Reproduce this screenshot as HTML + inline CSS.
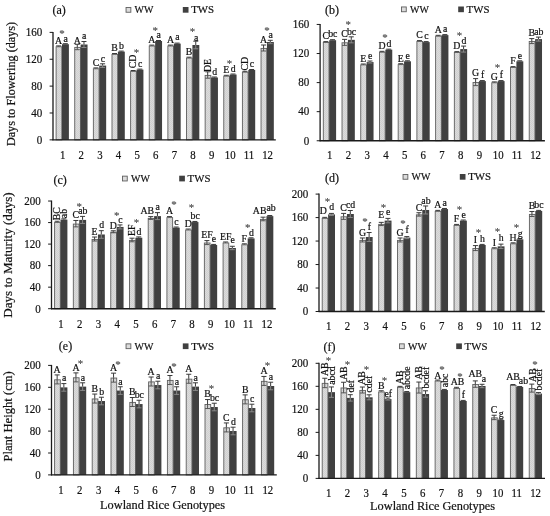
<!DOCTYPE html>
<html lang="en">
<head>
<meta charset="utf-8">
<title>Figure</title>
<style>
html,body{margin:0;padding:0;background:#fff;}
body{width:550px;height:516px;overflow:hidden;}
svg{display:block;font-family:"Liberation Serif", "DejaVu Serif", serif;fill:#111;}
text{stroke:#111;stroke-width:0.2px;}
.st{stroke:#444;stroke-width:0.1px;fill:#3c3c3c;}
</style>
</head>
<body>
<svg width="550" height="516" viewBox="0 0 550 516">
<defs>
<pattern id="dots" width="2" height="2" patternUnits="userSpaceOnUse">
<rect width="2" height="2" fill="#dbdbdb"/>
<rect width="1" height="1" fill="#d0d0d0"/>
<rect x="1" y="1" width="1" height="1" fill="#d0d0d0"/>
</pattern>
</defs>
<rect width="550" height="516" fill="#fff"/>
<g id="panel-a">
<rect x="56.1" y="46.8" width="5.7" height="93.05" fill="url(#dots)" stroke="#5f5f5f" stroke-width="0.9"/>
<rect x="62" y="44.2" width="6.9" height="95.65" fill="#404040"/>
<path d="M58.65 45.9V46.4M56.15 45.9H61.15" stroke="#3a3a3a" stroke-width="1" fill="none"/>
<path d="M65.35 43.7V44.2M62.85 43.7H67.85" stroke="#3a3a3a" stroke-width="1" fill="none"/>
<text x="58.65" y="43.7" font-size="9.8" text-anchor="middle">A</text>
<text x="65.65" y="41.5" font-size="9.8" text-anchor="middle">a</text>
<text x="62" y="37.3" class="st" font-size="11" text-anchor="middle">*</text>
<rect x="74.73" y="47.4" width="5.7" height="92.45" fill="url(#dots)" stroke="#5f5f5f" stroke-width="0.9"/>
<rect x="80.63" y="44.5" width="6.9" height="95.35" fill="#404040"/>
<path d="M77.28 44.3V47M74.78 44.3H79.78" stroke="#3a3a3a" stroke-width="1" fill="none"/>
<path d="M77.28 47V49.7M74.78 49.7H79.78" stroke="#4a4a4a" stroke-width="0.9" fill="none"/>
<path d="M83.98 41.5V44.5M81.48 41.5H86.48" stroke="#3a3a3a" stroke-width="1" fill="none"/>
<path d="M83.98 44.5V47.5M81.48 47.5H86.48" stroke="#8f8f8f" stroke-width="0.9" fill="none"/>
<text x="77.28" y="43.6" font-size="9.8" text-anchor="middle">A</text>
<text x="84.28" y="39.3" font-size="9.8" text-anchor="middle">a</text>
<rect x="93.36" y="68.8" width="5.7" height="71.05" fill="url(#dots)" stroke="#5f5f5f" stroke-width="0.9"/>
<rect x="99.26" y="65.6" width="6.9" height="74.25" fill="#404040"/>
<path d="M95.91 67.9V68.4M93.41 67.9H98.41" stroke="#3a3a3a" stroke-width="1" fill="none"/>
<path d="M102.61 63.8V65.6M100.11 63.8H105.11" stroke="#3a3a3a" stroke-width="1" fill="none"/>
<path d="M102.61 65.6V67.4M100.11 67.4H105.11" stroke="#8f8f8f" stroke-width="0.9" fill="none"/>
<text x="95.91" y="65.7" font-size="9.8" text-anchor="middle">C</text>
<text x="102.91" y="61.6" font-size="9.8" text-anchor="middle">c</text>
<rect x="111.99" y="54.4" width="5.7" height="85.45" fill="url(#dots)" stroke="#5f5f5f" stroke-width="0.9"/>
<rect x="117.89" y="51.6" width="6.9" height="88.25" fill="#404040"/>
<path d="M114.54 53.5V54M112.04 53.5H117.04" stroke="#3a3a3a" stroke-width="1" fill="none"/>
<path d="M121.24 51.1V51.6M118.74 51.1H123.74" stroke="#3a3a3a" stroke-width="1" fill="none"/>
<text x="114.54" y="51.3" font-size="9.8" text-anchor="middle">B</text>
<text x="121.54" y="48.9" font-size="9.8" text-anchor="middle">b</text>
<rect x="130.62" y="71.4" width="5.7" height="68.45" fill="url(#dots)" stroke="#5f5f5f" stroke-width="0.9"/>
<rect x="136.52" y="69.6" width="6.9" height="70.25" fill="#404040"/>
<path d="M133.17 70.5V71M130.67 70.5H135.67" stroke="#3a3a3a" stroke-width="1" fill="none"/>
<path d="M139.87 69.1V69.6M137.37 69.1H142.37" stroke="#3a3a3a" stroke-width="1" fill="none"/>
<text transform="translate(136.27 68.3) rotate(-90)" font-size="9.8" text-anchor="start">CD</text>
<text x="140.17" y="66.9" font-size="9.8" text-anchor="middle">c</text>
<text x="136.4" y="56" class="st" font-size="11" text-anchor="middle">*</text>
<rect x="149.25" y="46" width="5.7" height="93.85" fill="url(#dots)" stroke="#5f5f5f" stroke-width="0.9"/>
<rect x="155.15" y="41" width="6.9" height="98.85" fill="#404040"/>
<path d="M151.8 45.1V45.6M149.3 45.1H154.3" stroke="#3a3a3a" stroke-width="1" fill="none"/>
<path d="M158.5 40.5V41M156 40.5H161" stroke="#3a3a3a" stroke-width="1" fill="none"/>
<text x="151.8" y="42.9" font-size="9.8" text-anchor="middle">A</text>
<text x="158.8" y="38.3" font-size="9.8" text-anchor="middle">a</text>
<text x="155.15" y="34.1" class="st" font-size="11" text-anchor="middle">*</text>
<rect x="167.88" y="46" width="5.7" height="93.85" fill="url(#dots)" stroke="#5f5f5f" stroke-width="0.9"/>
<rect x="173.78" y="43.6" width="6.9" height="96.25" fill="#404040"/>
<path d="M170.43 45.1V45.6M167.93 45.1H172.93" stroke="#3a3a3a" stroke-width="1" fill="none"/>
<path d="M177.13 43.1V43.6M174.63 43.1H179.63" stroke="#3a3a3a" stroke-width="1" fill="none"/>
<text x="170.43" y="42.9" font-size="9.8" text-anchor="middle">A</text>
<text x="177.43" y="40.4" font-size="9.8" text-anchor="middle">a</text>
<rect x="186.51" y="58.1" width="5.7" height="81.75" fill="url(#dots)" stroke="#5f5f5f" stroke-width="0.9"/>
<rect x="192.41" y="45" width="6.9" height="94.85" fill="#404040"/>
<path d="M189.06 57.2V57.7M186.56 57.2H191.56" stroke="#3a3a3a" stroke-width="1" fill="none"/>
<path d="M195.76 41.2V45M193.26 41.2H198.26" stroke="#3a3a3a" stroke-width="1" fill="none"/>
<path d="M195.76 45V48.8M193.26 48.8H198.26" stroke="#8f8f8f" stroke-width="0.9" fill="none"/>
<text x="189.06" y="55" font-size="9.8" text-anchor="middle">B</text>
<text x="196.06" y="40.5" font-size="9.8" text-anchor="middle">a</text>
<text x="192.41" y="34.8" class="st" font-size="11" text-anchor="middle">*</text>
<rect x="205.14" y="75.4" width="5.7" height="64.45" fill="url(#dots)" stroke="#5f5f5f" stroke-width="0.9"/>
<rect x="211.04" y="77.5" width="6.9" height="62.35" fill="#404040"/>
<path d="M207.69 71.8V75M205.19 71.8H210.19" stroke="#3a3a3a" stroke-width="1" fill="none"/>
<path d="M207.69 75V78.2M205.19 78.2H210.19" stroke="#4a4a4a" stroke-width="0.9" fill="none"/>
<path d="M214.39 77V77.5M211.89 77H216.89" stroke="#3a3a3a" stroke-width="1" fill="none"/>
<text transform="translate(211.29 72.1) rotate(-90)" font-size="9.8" text-anchor="start">DE</text>
<text x="214.69" y="74.8" font-size="9.8" text-anchor="middle">d</text>
<rect x="223.77" y="76.2" width="5.7" height="63.65" fill="url(#dots)" stroke="#5f5f5f" stroke-width="0.9"/>
<rect x="229.67" y="74.5" width="6.9" height="65.35" fill="#404040"/>
<path d="M226.32 75.3V75.8M223.82 75.3H228.82" stroke="#3a3a3a" stroke-width="1" fill="none"/>
<path d="M233.02 74V74.5M230.52 74H235.52" stroke="#3a3a3a" stroke-width="1" fill="none"/>
<text x="226.32" y="73.1" font-size="9.8" text-anchor="middle">E</text>
<text x="233.32" y="71.8" font-size="9.8" text-anchor="middle">d</text>
<text x="229.4" y="66.6" class="st" font-size="11" text-anchor="middle">*</text>
<rect x="242.4" y="72.2" width="5.7" height="67.65" fill="url(#dots)" stroke="#5f5f5f" stroke-width="0.9"/>
<rect x="248.3" y="70" width="6.9" height="69.85" fill="#404040"/>
<path d="M244.95 71.3V71.8M242.45 71.3H247.45" stroke="#3a3a3a" stroke-width="1" fill="none"/>
<path d="M251.65 69.5V70M249.15 69.5H254.15" stroke="#3a3a3a" stroke-width="1" fill="none"/>
<text transform="translate(248.35 70.6) rotate(-90)" font-size="9.8" text-anchor="start">CD</text>
<text x="251.95" y="67.3" font-size="9.8" text-anchor="middle">c</text>
<rect x="261.03" y="48.4" width="5.7" height="91.45" fill="url(#dots)" stroke="#5f5f5f" stroke-width="0.9"/>
<rect x="266.93" y="42" width="6.9" height="97.85" fill="#404040"/>
<path d="M263.58 45V48M261.08 45H266.08" stroke="#3a3a3a" stroke-width="1" fill="none"/>
<path d="M263.58 48V51M261.08 51H266.08" stroke="#4a4a4a" stroke-width="0.9" fill="none"/>
<path d="M270.28 40.3V42M267.78 40.3H272.78" stroke="#3a3a3a" stroke-width="1" fill="none"/>
<path d="M270.28 42V43.7M267.78 43.7H272.78" stroke="#8f8f8f" stroke-width="0.9" fill="none"/>
<text x="263.58" y="42.8" font-size="9.8" text-anchor="middle">A</text>
<text x="270.58" y="38.1" font-size="9.8" text-anchor="middle">a</text>
<text x="266.93" y="33.9" class="st" font-size="11" text-anchor="middle">*</text>
<path d="M53 31.89V140.35" stroke="#1a1a1a" stroke-width="1.3" fill="none"/>
<path d="M52.5 139.85H275.8" stroke="#1a1a1a" stroke-width="1.4" fill="none"/>
<path d="M49.6 139.85H53" stroke="#1a1a1a" stroke-width="1" fill="none"/>
<text transform="translate(42.2 143.65) scale(0.92 1)" font-size="12" text-anchor="end">0</text>
<path d="M49.6 112.99H53" stroke="#1a1a1a" stroke-width="1" fill="none"/>
<text transform="translate(42.2 116.79) scale(0.92 1)" font-size="12" text-anchor="end">40</text>
<path d="M49.6 86.12H53" stroke="#1a1a1a" stroke-width="1" fill="none"/>
<text transform="translate(42.2 89.92) scale(0.92 1)" font-size="12" text-anchor="end">80</text>
<path d="M49.6 59.26H53" stroke="#1a1a1a" stroke-width="1" fill="none"/>
<text transform="translate(42.2 63.06) scale(0.92 1)" font-size="12" text-anchor="end">120</text>
<path d="M49.6 32.39H53" stroke="#1a1a1a" stroke-width="1" fill="none"/>
<text transform="translate(42.2 36.19) scale(0.92 1)" font-size="12" text-anchor="end">160</text>
<text transform="translate(62.6 158.6) scale(0.9 1)" font-size="12" text-anchor="middle">1</text>
<text transform="translate(81.23 158.6) scale(0.9 1)" font-size="12" text-anchor="middle">2</text>
<text transform="translate(99.86 158.6) scale(0.9 1)" font-size="12" text-anchor="middle">3</text>
<text transform="translate(118.49 158.6) scale(0.9 1)" font-size="12" text-anchor="middle">4</text>
<text transform="translate(137.12 158.6) scale(0.9 1)" font-size="12" text-anchor="middle">5</text>
<text transform="translate(155.75 158.6) scale(0.9 1)" font-size="12" text-anchor="middle">6</text>
<text transform="translate(174.38 158.6) scale(0.9 1)" font-size="12" text-anchor="middle">7</text>
<text transform="translate(193.01 158.6) scale(0.9 1)" font-size="12" text-anchor="middle">8</text>
<text transform="translate(211.64 158.6) scale(0.9 1)" font-size="12" text-anchor="middle">9</text>
<text transform="translate(230.27 158.6) scale(0.9 1)" font-size="12" text-anchor="middle">10</text>
<text transform="translate(248.9 158.6) scale(0.9 1)" font-size="12" text-anchor="middle">11</text>
<text transform="translate(267.53 158.6) scale(0.9 1)" font-size="12" text-anchor="middle">12</text>
<text x="59.2" y="14.2" font-size="12" text-anchor="middle">(a)</text>
<rect x="126.05" y="7.45" width="4.8" height="4.8" fill="#dcdcdc" stroke="#5e5e5e" stroke-width="0.9"/>
<text x="134.6" y="13.3" font-size="10.6" textLength="18.8" lengthAdjust="spacingAndGlyphs">WW</text>
<rect x="182.8" y="7" width="5.7" height="5.7" fill="#404040"/>
<text x="191.2" y="13.3" font-size="10.8">TWS</text>
<text transform="translate(14.5 84) rotate(-90)" font-size="12.2" text-anchor="middle">Days to Flowering (days)</text>
</g>
<g id="panel-b">
<rect x="323.3" y="42.5" width="5.7" height="98.25" fill="url(#dots)" stroke="#5f5f5f" stroke-width="0.9"/>
<rect x="329.2" y="40.2" width="6.9" height="100.55" fill="#404040"/>
<path d="M325.85 41.6V42.1M323.35 41.6H328.35" stroke="#3a3a3a" stroke-width="1" fill="none"/>
<path d="M332.55 39.7V40.2M330.05 39.7H335.05" stroke="#3a3a3a" stroke-width="1" fill="none"/>
<text x="325.85" y="39.4" font-size="9.8" text-anchor="middle">C</text>
<text x="332.85" y="36.5" font-size="9.8" text-anchor="middle">bc</text>
<rect x="342.02" y="42.79" width="5.7" height="97.96" fill="url(#dots)" stroke="#5f5f5f" stroke-width="0.9"/>
<rect x="347.92" y="39.84" width="6.9" height="100.91" fill="#404040"/>
<path d="M344.57 39.39V42.39M342.07 39.39H347.07" stroke="#3a3a3a" stroke-width="1" fill="none"/>
<path d="M344.57 42.39V45.39M342.07 45.39H347.07" stroke="#4a4a4a" stroke-width="0.9" fill="none"/>
<path d="M351.27 36.84V39.84M348.77 36.84H353.77" stroke="#3a3a3a" stroke-width="1" fill="none"/>
<path d="M351.27 39.84V42.84M348.77 42.84H353.77" stroke="#8f8f8f" stroke-width="0.9" fill="none"/>
<text x="344.57" y="37.19" font-size="9.8" text-anchor="middle">C</text>
<text x="351.57" y="34.64" font-size="9.8" text-anchor="middle">bc</text>
<text x="348.2" y="28" class="st" font-size="11" text-anchor="middle">*</text>
<rect x="360.74" y="64.9" width="5.7" height="75.85" fill="url(#dots)" stroke="#5f5f5f" stroke-width="0.9"/>
<rect x="366.64" y="62.03" width="6.9" height="78.72" fill="#404040"/>
<path d="M363.29 64V64.5M360.79 64H365.79" stroke="#3a3a3a" stroke-width="1" fill="none"/>
<path d="M369.99 61.03V62.03M367.49 61.03H372.49" stroke="#3a3a3a" stroke-width="1" fill="none"/>
<path d="M369.99 62.03V63.03M367.49 63.03H372.49" stroke="#8f8f8f" stroke-width="0.9" fill="none"/>
<text x="363.29" y="61.8" font-size="9.8" text-anchor="middle">E</text>
<text x="370.29" y="58.83" font-size="9.8" text-anchor="middle">e</text>
<rect x="379.46" y="52.24" width="5.7" height="88.51" fill="url(#dots)" stroke="#5f5f5f" stroke-width="0.9"/>
<rect x="385.36" y="49.66" width="6.9" height="91.09" fill="#404040"/>
<path d="M382.01 51.34V51.84M379.51 51.34H384.51" stroke="#3a3a3a" stroke-width="1" fill="none"/>
<path d="M388.71 49.16V49.66M386.21 49.16H391.21" stroke="#3a3a3a" stroke-width="1" fill="none"/>
<text x="382.01" y="49.14" font-size="9.8" text-anchor="middle">D</text>
<text x="389.01" y="46.96" font-size="9.8" text-anchor="middle">d</text>
<text x="385" y="41.2" class="st" font-size="11" text-anchor="middle">*</text>
<rect x="398.18" y="64.61" width="5.7" height="76.14" fill="url(#dots)" stroke="#5f5f5f" stroke-width="0.9"/>
<rect x="404.08" y="61.3" width="6.9" height="79.45" fill="#404040"/>
<path d="M400.73 63.71V64.21M398.23 63.71H403.23" stroke="#3a3a3a" stroke-width="1" fill="none"/>
<path d="M407.43 60.8V61.3M404.93 60.8H409.93" stroke="#3a3a3a" stroke-width="1" fill="none"/>
<text x="400.73" y="61.51" font-size="9.8" text-anchor="middle">E</text>
<text x="407.73" y="58.6" font-size="9.8" text-anchor="middle">e</text>
<rect x="416.9" y="41.48" width="5.7" height="99.27" fill="url(#dots)" stroke="#5f5f5f" stroke-width="0.9"/>
<rect x="422.8" y="42.1" width="6.9" height="98.65" fill="#404040"/>
<path d="M419.45 40.58V41.08M416.95 40.58H421.95" stroke="#3a3a3a" stroke-width="1" fill="none"/>
<path d="M426.15 41.6V42.1M423.65 41.6H428.65" stroke="#3a3a3a" stroke-width="1" fill="none"/>
<text x="419.45" y="38.38" font-size="9.8" text-anchor="middle">C</text>
<text x="426.45" y="39.4" font-size="9.8" text-anchor="middle">c</text>
<rect x="435.62" y="36.24" width="5.7" height="104.51" fill="url(#dots)" stroke="#5f5f5f" stroke-width="0.9"/>
<rect x="441.52" y="35.11" width="6.9" height="105.64" fill="#404040"/>
<path d="M438.17 35.34V35.84M435.67 35.34H440.67" stroke="#3a3a3a" stroke-width="1" fill="none"/>
<path d="M444.87 34.61V35.11M442.37 34.61H447.37" stroke="#3a3a3a" stroke-width="1" fill="none"/>
<text x="438.17" y="33.14" font-size="9.8" text-anchor="middle">A</text>
<text x="445.17" y="32.41" font-size="9.8" text-anchor="middle">a</text>
<rect x="454.34" y="52.54" width="5.7" height="88.21" fill="url(#dots)" stroke="#5f5f5f" stroke-width="0.9"/>
<rect x="460.24" y="49.08" width="6.9" height="91.67" fill="#404040"/>
<path d="M456.89 51.64V52.14M454.39 51.64H459.39" stroke="#3a3a3a" stroke-width="1" fill="none"/>
<path d="M463.59 46.08V49.08M461.09 46.08H466.09" stroke="#3a3a3a" stroke-width="1" fill="none"/>
<path d="M463.59 49.08V52.08M461.09 52.08H466.09" stroke="#8f8f8f" stroke-width="0.9" fill="none"/>
<text x="456.89" y="49.44" font-size="9.8" text-anchor="middle">D</text>
<text x="463.89" y="43.88" font-size="9.8" text-anchor="middle">d</text>
<text x="459.6" y="38.6" class="st" font-size="11" text-anchor="middle">*</text>
<rect x="473.06" y="82.51" width="5.7" height="58.24" fill="url(#dots)" stroke="#5f5f5f" stroke-width="0.9"/>
<rect x="478.96" y="81.09" width="6.9" height="59.66" fill="#404040"/>
<path d="M475.61 78.61V82.11M473.11 78.61H478.11" stroke="#3a3a3a" stroke-width="1" fill="none"/>
<path d="M475.61 82.11V85.61M473.11 85.61H478.11" stroke="#4a4a4a" stroke-width="0.9" fill="none"/>
<path d="M482.31 80.59V81.09M479.81 80.59H484.81" stroke="#3a3a3a" stroke-width="1" fill="none"/>
<text x="475.61" y="76.41" font-size="9.8" text-anchor="middle">G</text>
<text x="482.61" y="78.39" font-size="9.8" text-anchor="middle">f</text>
<rect x="491.78" y="82.8" width="5.7" height="57.95" fill="url(#dots)" stroke="#5f5f5f" stroke-width="0.9"/>
<rect x="497.68" y="81.09" width="6.9" height="59.66" fill="#404040"/>
<path d="M494.33 81.9V82.4M491.83 81.9H496.83" stroke="#3a3a3a" stroke-width="1" fill="none"/>
<path d="M501.03 80.59V81.09M498.53 80.59H503.53" stroke="#3a3a3a" stroke-width="1" fill="none"/>
<text x="494.33" y="79.7" font-size="9.8" text-anchor="middle">G</text>
<text x="501.33" y="78.39" font-size="9.8" text-anchor="middle">f</text>
<text x="497.6" y="70.6" class="st" font-size="11" text-anchor="middle">*</text>
<rect x="510.5" y="67.52" width="5.7" height="73.23" fill="url(#dots)" stroke="#5f5f5f" stroke-width="0.9"/>
<rect x="516.4" y="61.3" width="6.9" height="79.45" fill="#404040"/>
<path d="M513.05 66.62V67.12M510.55 66.62H515.55" stroke="#3a3a3a" stroke-width="1" fill="none"/>
<path d="M519.75 60.8V61.3M517.25 60.8H522.25" stroke="#3a3a3a" stroke-width="1" fill="none"/>
<text x="513.05" y="64.42" font-size="9.8" text-anchor="middle">F</text>
<text x="520.05" y="58.6" font-size="9.8" text-anchor="middle">e</text>
<rect x="529.22" y="41.48" width="5.7" height="99.27" fill="url(#dots)" stroke="#5f5f5f" stroke-width="0.9"/>
<rect x="535.12" y="39.11" width="6.9" height="101.64" fill="#404040"/>
<path d="M531.77 38.58V41.08M529.27 38.58H534.27" stroke="#3a3a3a" stroke-width="1" fill="none"/>
<path d="M531.77 41.08V43.58M529.27 43.58H534.27" stroke="#4a4a4a" stroke-width="0.9" fill="none"/>
<path d="M538.47 37.11V39.11M535.97 37.11H540.97" stroke="#3a3a3a" stroke-width="1" fill="none"/>
<path d="M538.47 39.11V41.11M535.97 41.11H540.97" stroke="#8f8f8f" stroke-width="0.9" fill="none"/>
<text x="531.77" y="36.38" font-size="9.8" text-anchor="middle">B</text>
<text x="538.77" y="34.91" font-size="9.8" text-anchor="middle">ab</text>
<path d="M320.1 23.95V141.25" stroke="#1a1a1a" stroke-width="1.3" fill="none"/>
<path d="M319.6 140.75H544.9" stroke="#1a1a1a" stroke-width="1.4" fill="none"/>
<path d="M316.7 140.75H320.1" stroke="#1a1a1a" stroke-width="1" fill="none"/>
<text transform="translate(309.3 144.55) scale(0.92 1)" font-size="12" text-anchor="end">0</text>
<path d="M316.7 111.67H320.1" stroke="#1a1a1a" stroke-width="1" fill="none"/>
<text transform="translate(309.3 115.47) scale(0.92 1)" font-size="12" text-anchor="end">40</text>
<path d="M316.7 82.6H320.1" stroke="#1a1a1a" stroke-width="1" fill="none"/>
<text transform="translate(309.3 86.4) scale(0.92 1)" font-size="12" text-anchor="end">80</text>
<path d="M316.7 53.52H320.1" stroke="#1a1a1a" stroke-width="1" fill="none"/>
<text transform="translate(309.3 57.32) scale(0.92 1)" font-size="12" text-anchor="end">120</text>
<path d="M316.7 24.45H320.1" stroke="#1a1a1a" stroke-width="1" fill="none"/>
<text transform="translate(309.3 28.25) scale(0.92 1)" font-size="12" text-anchor="end">160</text>
<text transform="translate(329.7 159.2) scale(0.9 1)" font-size="12" text-anchor="middle">1</text>
<text transform="translate(348.42 159.2) scale(0.9 1)" font-size="12" text-anchor="middle">2</text>
<text transform="translate(367.14 159.2) scale(0.9 1)" font-size="12" text-anchor="middle">3</text>
<text transform="translate(385.86 159.2) scale(0.9 1)" font-size="12" text-anchor="middle">4</text>
<text transform="translate(404.58 159.2) scale(0.9 1)" font-size="12" text-anchor="middle">5</text>
<text transform="translate(423.3 159.2) scale(0.9 1)" font-size="12" text-anchor="middle">6</text>
<text transform="translate(442.02 159.2) scale(0.9 1)" font-size="12" text-anchor="middle">7</text>
<text transform="translate(460.74 159.2) scale(0.9 1)" font-size="12" text-anchor="middle">8</text>
<text transform="translate(479.46 159.2) scale(0.9 1)" font-size="12" text-anchor="middle">9</text>
<text transform="translate(498.18 159.2) scale(0.9 1)" font-size="12" text-anchor="middle">10</text>
<text transform="translate(516.9 159.2) scale(0.9 1)" font-size="12" text-anchor="middle">11</text>
<text transform="translate(535.62 159.2) scale(0.9 1)" font-size="12" text-anchor="middle">12</text>
<text x="332" y="14.4" font-size="12" text-anchor="middle">(b)</text>
<rect x="401.45" y="6.95" width="4.8" height="4.8" fill="#dcdcdc" stroke="#5e5e5e" stroke-width="0.9"/>
<text x="410" y="12.8" font-size="10.6" textLength="18.8" lengthAdjust="spacingAndGlyphs">WW</text>
<rect x="458.2" y="6.5" width="5.7" height="5.7" fill="#404040"/>
<text x="466.6" y="12.8" font-size="10.8">TWS</text>
</g>
<g id="panel-c">
<rect x="54.6" y="222.46" width="5.7" height="86.24" fill="url(#dots)" stroke="#5f5f5f" stroke-width="0.9"/>
<rect x="60.5" y="219.63" width="6.9" height="89.07" fill="#404040"/>
<path d="M57.15 221.26V222.06M54.65 221.26H59.65" stroke="#3a3a3a" stroke-width="1" fill="none"/>
<path d="M63.85 218.83V219.63M61.35 218.83H66.35" stroke="#3a3a3a" stroke-width="1" fill="none"/>
<text transform="translate(60.25 220.26) rotate(-90)" font-size="9.8" text-anchor="start">BC</text>
<text transform="translate(67.25 218.13) rotate(-90)" font-size="9.8" text-anchor="start">ab</text>
<rect x="73.32" y="224.08" width="5.7" height="84.62" fill="url(#dots)" stroke="#5f5f5f" stroke-width="0.9"/>
<rect x="79.22" y="219.9" width="6.9" height="88.8" fill="#404040"/>
<path d="M75.87 220.48V223.68M73.37 220.48H78.37" stroke="#3a3a3a" stroke-width="1" fill="none"/>
<path d="M75.87 223.68V226.88M73.37 226.88H78.37" stroke="#4a4a4a" stroke-width="0.9" fill="none"/>
<path d="M82.57 216.4V219.9M80.07 216.4H85.07" stroke="#3a3a3a" stroke-width="1" fill="none"/>
<path d="M82.57 219.9V223.4M80.07 223.4H85.07" stroke="#8f8f8f" stroke-width="0.9" fill="none"/>
<text x="75.87" y="218.28" font-size="9.8" text-anchor="middle">C</text>
<text x="82.87" y="214.2" font-size="9.8" text-anchor="middle">ab</text>
<text x="79.22" y="210" class="st" font-size="11" text-anchor="middle">*</text>
<rect x="92.04" y="239.42" width="5.7" height="69.28" fill="url(#dots)" stroke="#5f5f5f" stroke-width="0.9"/>
<rect x="97.94" y="234.48" width="6.9" height="74.22" fill="#404040"/>
<path d="M94.59 237.02V239.02M92.09 237.02H97.09" stroke="#3a3a3a" stroke-width="1" fill="none"/>
<path d="M94.59 239.02V241.02M92.09 241.02H97.09" stroke="#4a4a4a" stroke-width="0.9" fill="none"/>
<path d="M101.29 230.68V234.48M98.79 230.68H103.79" stroke="#3a3a3a" stroke-width="1" fill="none"/>
<path d="M101.29 234.48V238.28M98.79 238.28H103.79" stroke="#8f8f8f" stroke-width="0.9" fill="none"/>
<text x="94.59" y="234.82" font-size="9.8" text-anchor="middle">E</text>
<text x="101.59" y="228.48" font-size="9.8" text-anchor="middle">d</text>
<rect x="110.76" y="232.18" width="5.7" height="76.52" fill="url(#dots)" stroke="#5f5f5f" stroke-width="0.9"/>
<rect x="116.66" y="226.92" width="6.9" height="81.78" fill="#404040"/>
<path d="M113.31 230.78V231.78M110.81 230.78H115.81" stroke="#3a3a3a" stroke-width="1" fill="none"/>
<path d="M113.31 231.78V232.78M110.81 232.78H115.81" stroke="#4a4a4a" stroke-width="0.9" fill="none"/>
<path d="M120.01 224.92V226.92M117.51 224.92H122.51" stroke="#3a3a3a" stroke-width="1" fill="none"/>
<path d="M120.01 226.92V228.92M117.51 228.92H122.51" stroke="#8f8f8f" stroke-width="0.9" fill="none"/>
<text x="113.31" y="228.58" font-size="9.8" text-anchor="middle">D</text>
<text x="120.31" y="222.72" font-size="9.8" text-anchor="middle">c</text>
<text x="116.66" y="218.52" class="st" font-size="11" text-anchor="middle">*</text>
<rect x="129.48" y="240.39" width="5.7" height="68.31" fill="url(#dots)" stroke="#5f5f5f" stroke-width="0.9"/>
<rect x="135.38" y="237.72" width="6.9" height="70.98" fill="#404040"/>
<path d="M132.03 238.19V239.99M129.53 238.19H134.53" stroke="#3a3a3a" stroke-width="1" fill="none"/>
<path d="M132.03 239.99V241.79M129.53 241.79H134.53" stroke="#4a4a4a" stroke-width="0.9" fill="none"/>
<path d="M138.73 236.92V237.72M136.23 236.92H141.23" stroke="#3a3a3a" stroke-width="1" fill="none"/>
<text transform="translate(135.13 235.99) rotate(-90)" font-size="9.8" text-anchor="start">EF</text>
<text x="139.03" y="234.72" font-size="9.8" text-anchor="middle">d</text>
<text x="136.4" y="225.6" class="st" font-size="11" text-anchor="middle">*</text>
<rect x="148.2" y="218.41" width="5.7" height="90.29" fill="url(#dots)" stroke="#5f5f5f" stroke-width="0.9"/>
<rect x="154.1" y="216.12" width="6.9" height="92.58" fill="#404040"/>
<path d="M150.75 216.61V218.01M148.25 216.61H153.25" stroke="#3a3a3a" stroke-width="1" fill="none"/>
<path d="M150.75 218.01V219.41M148.25 219.41H153.25" stroke="#4a4a4a" stroke-width="0.9" fill="none"/>
<path d="M157.45 212.62V216.12M154.95 212.62H159.95" stroke="#3a3a3a" stroke-width="1" fill="none"/>
<path d="M157.45 216.12V219.62M154.95 219.62H159.95" stroke="#8f8f8f" stroke-width="0.9" fill="none"/>
<text x="147.35" y="214.41" font-size="9.8" text-anchor="middle">AB</text>
<text x="157.75" y="210.42" font-size="9.8" text-anchor="middle">a</text>
<rect x="166.92" y="217.6" width="5.7" height="91.1" fill="url(#dots)" stroke="#5f5f5f" stroke-width="0.9"/>
<rect x="172.82" y="227.62" width="6.9" height="81.08" fill="#404040"/>
<path d="M169.47 216.6V217.2M166.97 216.6H171.97" stroke="#3a3a3a" stroke-width="1" fill="none"/>
<path d="M176.17 227.02V227.62M173.67 227.02H178.67" stroke="#3a3a3a" stroke-width="1" fill="none"/>
<text x="169.47" y="214.4" font-size="9.8" text-anchor="middle">A</text>
<text x="176.47" y="224.82" font-size="9.8" text-anchor="middle">c</text>
<text x="174" y="207.6" class="st" font-size="11" text-anchor="middle">*</text>
<rect x="185.64" y="230.02" width="5.7" height="78.68" fill="url(#dots)" stroke="#5f5f5f" stroke-width="0.9"/>
<rect x="191.54" y="222.06" width="6.9" height="86.64" fill="#404040"/>
<path d="M188.19 229.02V229.62M185.69 229.02H190.69" stroke="#3a3a3a" stroke-width="1" fill="none"/>
<path d="M194.89 221.46V222.06M192.39 221.46H197.39" stroke="#3a3a3a" stroke-width="1" fill="none"/>
<text x="188.19" y="226.82" font-size="9.8" text-anchor="middle">D</text>
<text x="195.19" y="219.26" font-size="9.8" text-anchor="middle">bc</text>
<text x="191.4" y="210.6" class="st" font-size="11" text-anchor="middle">*</text>
<rect x="204.36" y="242.98" width="5.7" height="65.72" fill="url(#dots)" stroke="#5f5f5f" stroke-width="0.9"/>
<rect x="210.26" y="245.01" width="6.9" height="63.69" fill="#404040"/>
<path d="M206.91 240.58V242.58M204.41 240.58H209.41" stroke="#3a3a3a" stroke-width="1" fill="none"/>
<path d="M206.91 242.58V244.58M204.41 244.58H209.41" stroke="#4a4a4a" stroke-width="0.9" fill="none"/>
<path d="M213.61 244.41V245.01M211.11 244.41H216.11" stroke="#3a3a3a" stroke-width="1" fill="none"/>
<text x="206.91" y="238.38" font-size="9.8" text-anchor="middle">EF</text>
<text x="213.91" y="242.21" font-size="9.8" text-anchor="middle">e</text>
<rect x="223.08" y="242.98" width="5.7" height="65.72" fill="url(#dots)" stroke="#5f5f5f" stroke-width="0.9"/>
<rect x="228.98" y="247.98" width="6.9" height="60.72" fill="#404040"/>
<path d="M225.63 241.98V242.58M223.13 241.98H228.13" stroke="#3a3a3a" stroke-width="1" fill="none"/>
<path d="M232.33 246.28V247.98M229.83 246.28H234.83" stroke="#3a3a3a" stroke-width="1" fill="none"/>
<path d="M232.33 247.98V249.68M229.83 249.68H234.83" stroke="#8f8f8f" stroke-width="0.9" fill="none"/>
<text x="225.63" y="239.78" font-size="9.8" text-anchor="middle">EF</text>
<text x="232.63" y="242.58" font-size="9.8" text-anchor="middle">e</text>
<rect x="241.8" y="244.82" width="5.7" height="63.88" fill="url(#dots)" stroke="#5f5f5f" stroke-width="0.9"/>
<rect x="247.7" y="238.42" width="6.9" height="70.28" fill="#404040"/>
<path d="M244.35 243.82V244.42M241.85 243.82H246.85" stroke="#3a3a3a" stroke-width="1" fill="none"/>
<path d="M251.05 237.82V238.42M248.55 237.82H253.55" stroke="#3a3a3a" stroke-width="1" fill="none"/>
<text x="244.35" y="241.62" font-size="9.8" text-anchor="middle">F</text>
<text x="251.35" y="235.62" font-size="9.8" text-anchor="middle">d</text>
<text x="247.7" y="231.42" class="st" font-size="11" text-anchor="middle">*</text>
<rect x="260.52" y="219.38" width="5.7" height="89.32" fill="url(#dots)" stroke="#5f5f5f" stroke-width="0.9"/>
<rect x="266.42" y="216.12" width="6.9" height="92.58" fill="#404040"/>
<path d="M263.07 217.18V218.98M260.57 217.18H265.57" stroke="#3a3a3a" stroke-width="1" fill="none"/>
<path d="M263.07 218.98V220.78M260.57 220.78H265.57" stroke="#4a4a4a" stroke-width="0.9" fill="none"/>
<path d="M269.77 215.52V216.12M267.27 215.52H272.27" stroke="#3a3a3a" stroke-width="1" fill="none"/>
<text x="259.67" y="213.98" font-size="9.8" text-anchor="middle">AB</text>
<text x="271.07" y="211.32" font-size="9.8" text-anchor="middle">ab</text>
<path d="M51.5 200.54V309.2" stroke="#1a1a1a" stroke-width="1.3" fill="none"/>
<path d="M51 308.7H275.8" stroke="#1a1a1a" stroke-width="1.4" fill="none"/>
<path d="M48.1 308.7H51.5" stroke="#1a1a1a" stroke-width="1" fill="none"/>
<text transform="translate(40.7 312.5) scale(0.92 1)" font-size="12" text-anchor="end">0</text>
<path d="M48.1 287.17H51.5" stroke="#1a1a1a" stroke-width="1" fill="none"/>
<text transform="translate(40.7 290.97) scale(0.92 1)" font-size="12" text-anchor="end">40</text>
<path d="M48.1 265.64H51.5" stroke="#1a1a1a" stroke-width="1" fill="none"/>
<text transform="translate(40.7 269.44) scale(0.92 1)" font-size="12" text-anchor="end">80</text>
<path d="M48.1 244.1H51.5" stroke="#1a1a1a" stroke-width="1" fill="none"/>
<text transform="translate(40.7 247.9) scale(0.92 1)" font-size="12" text-anchor="end">120</text>
<path d="M48.1 222.57H51.5" stroke="#1a1a1a" stroke-width="1" fill="none"/>
<text transform="translate(40.7 226.37) scale(0.92 1)" font-size="12" text-anchor="end">160</text>
<path d="M48.1 201.04H51.5" stroke="#1a1a1a" stroke-width="1" fill="none"/>
<text transform="translate(40.7 204.84) scale(0.92 1)" font-size="12" text-anchor="end">200</text>
<text transform="translate(61 327.8) scale(0.9 1)" font-size="12" text-anchor="middle">1</text>
<text transform="translate(79.72 327.8) scale(0.9 1)" font-size="12" text-anchor="middle">2</text>
<text transform="translate(98.44 327.8) scale(0.9 1)" font-size="12" text-anchor="middle">3</text>
<text transform="translate(117.16 327.8) scale(0.9 1)" font-size="12" text-anchor="middle">4</text>
<text transform="translate(135.88 327.8) scale(0.9 1)" font-size="12" text-anchor="middle">5</text>
<text transform="translate(154.6 327.8) scale(0.9 1)" font-size="12" text-anchor="middle">6</text>
<text transform="translate(173.32 327.8) scale(0.9 1)" font-size="12" text-anchor="middle">7</text>
<text transform="translate(192.04 327.8) scale(0.9 1)" font-size="12" text-anchor="middle">8</text>
<text transform="translate(210.76 327.8) scale(0.9 1)" font-size="12" text-anchor="middle">9</text>
<text transform="translate(229.48 327.8) scale(0.9 1)" font-size="12" text-anchor="middle">10</text>
<text transform="translate(248.2 327.8) scale(0.9 1)" font-size="12" text-anchor="middle">11</text>
<text transform="translate(266.92 327.8) scale(0.9 1)" font-size="12" text-anchor="middle">12</text>
<text x="60.2" y="183.6" font-size="12" text-anchor="middle">(c)</text>
<rect x="122.45" y="176.15" width="4.8" height="4.8" fill="#dcdcdc" stroke="#5e5e5e" stroke-width="0.9"/>
<text x="131" y="182" font-size="10.6" textLength="18.8" lengthAdjust="spacingAndGlyphs">WW</text>
<rect x="179.2" y="175.7" width="5.7" height="5.7" fill="#404040"/>
<text x="187.6" y="182" font-size="10.8">TWS</text>
<text transform="translate(11.8 255) rotate(-90)" font-size="13.1" text-anchor="middle">Days to Maturity (days)</text>
</g>
<g id="panel-d">
<rect x="322.2" y="218.37" width="5.7" height="93.13" fill="url(#dots)" stroke="#5f5f5f" stroke-width="0.9"/>
<rect x="328.1" y="214.42" width="6.9" height="97.08" fill="#404040"/>
<path d="M324.75 217.37V217.97M322.25 217.37H327.25" stroke="#3a3a3a" stroke-width="1" fill="none"/>
<path d="M331.45 213.42V214.42M328.95 213.42H333.95" stroke="#3a3a3a" stroke-width="1" fill="none"/>
<path d="M331.45 214.42V215.42M328.95 215.42H333.95" stroke="#8f8f8f" stroke-width="0.9" fill="none"/>
<text x="323.25" y="213.67" font-size="9.8" text-anchor="middle">D</text>
<text x="331.75" y="209.72" font-size="9.8" text-anchor="middle">d</text>
<text x="327.4" y="204.6" class="st" font-size="11" text-anchor="middle">*</text>
<rect x="341.04" y="216.8" width="5.7" height="94.7" fill="url(#dots)" stroke="#5f5f5f" stroke-width="0.9"/>
<rect x="346.94" y="214.01" width="6.9" height="97.49" fill="#404040"/>
<path d="M343.59 213.4V216.4M341.09 213.4H346.09" stroke="#3a3a3a" stroke-width="1" fill="none"/>
<path d="M343.59 216.4V219.4M341.09 219.4H346.09" stroke="#4a4a4a" stroke-width="0.9" fill="none"/>
<path d="M350.29 210.51V214.01M347.79 210.51H352.79" stroke="#3a3a3a" stroke-width="1" fill="none"/>
<path d="M350.29 214.01V217.51M347.79 217.51H352.79" stroke="#8f8f8f" stroke-width="0.9" fill="none"/>
<text x="343.59" y="211.2" font-size="9.8" text-anchor="middle">C</text>
<text x="350.59" y="208.31" font-size="9.8" text-anchor="middle">cd</text>
<rect x="359.87" y="240.39" width="5.7" height="71.11" fill="url(#dots)" stroke="#5f5f5f" stroke-width="0.9"/>
<rect x="365.77" y="237.01" width="6.9" height="74.49" fill="#404040"/>
<path d="M362.42 237.99V239.99M359.92 237.99H364.92" stroke="#3a3a3a" stroke-width="1" fill="none"/>
<path d="M362.42 239.99V241.99M359.92 241.99H364.92" stroke="#4a4a4a" stroke-width="0.9" fill="none"/>
<path d="M369.12 232.51V237.01M366.62 232.51H371.62" stroke="#3a3a3a" stroke-width="1" fill="none"/>
<path d="M369.12 237.01V241.51M366.62 241.51H371.62" stroke="#8f8f8f" stroke-width="0.9" fill="none"/>
<text x="362.42" y="235.79" font-size="9.8" text-anchor="middle">G</text>
<text x="369.42" y="230.31" font-size="9.8" text-anchor="middle">f</text>
<text x="365" y="224.6" class="st" font-size="11" text-anchor="middle">*</text>
<rect x="378.71" y="224.37" width="5.7" height="87.13" fill="url(#dots)" stroke="#5f5f5f" stroke-width="0.9"/>
<rect x="384.61" y="220.6" width="6.9" height="90.9" fill="#404040"/>
<path d="M381.26 222.37V223.97M378.76 222.37H383.76" stroke="#3a3a3a" stroke-width="1" fill="none"/>
<path d="M381.26 223.97V225.57M378.76 225.57H383.76" stroke="#4a4a4a" stroke-width="0.9" fill="none"/>
<path d="M387.96 218.4V220.6M385.46 218.4H390.46" stroke="#3a3a3a" stroke-width="1" fill="none"/>
<path d="M387.96 220.6V222.8M385.46 222.8H390.46" stroke="#8f8f8f" stroke-width="0.9" fill="none"/>
<text x="381.26" y="218.17" font-size="9.8" text-anchor="middle">E</text>
<text x="388.26" y="215.2" font-size="9.8" text-anchor="middle">e</text>
<text x="383.6" y="211.2" class="st" font-size="11" text-anchor="middle">*</text>
<rect x="397.54" y="240.39" width="5.7" height="71.11" fill="url(#dots)" stroke="#5f5f5f" stroke-width="0.9"/>
<rect x="403.44" y="237.61" width="6.9" height="73.89" fill="#404040"/>
<path d="M400.09 237.99V239.99M397.59 237.99H402.59" stroke="#3a3a3a" stroke-width="1" fill="none"/>
<path d="M400.09 239.99V241.99M397.59 241.99H402.59" stroke="#4a4a4a" stroke-width="0.9" fill="none"/>
<path d="M406.79 236.61V237.61M404.29 236.61H409.29" stroke="#3a3a3a" stroke-width="1" fill="none"/>
<path d="M406.79 237.61V238.61M404.29 238.61H409.29" stroke="#8f8f8f" stroke-width="0.9" fill="none"/>
<text x="400.09" y="235.79" font-size="9.8" text-anchor="middle">G</text>
<text x="407.09" y="232.91" font-size="9.8" text-anchor="middle">f</text>
<text x="403" y="227.2" class="st" font-size="11" text-anchor="middle">*</text>
<rect x="416.38" y="214.82" width="5.7" height="96.68" fill="url(#dots)" stroke="#5f5f5f" stroke-width="0.9"/>
<rect x="422.28" y="209.98" width="6.9" height="101.52" fill="#404040"/>
<path d="M418.93 212.72V214.42M416.43 212.72H421.43" stroke="#3a3a3a" stroke-width="1" fill="none"/>
<path d="M418.93 214.42V216.12M416.43 216.12H421.43" stroke="#4a4a4a" stroke-width="0.9" fill="none"/>
<path d="M425.63 205.98V209.98M423.13 205.98H428.13" stroke="#3a3a3a" stroke-width="1" fill="none"/>
<path d="M425.63 209.98V213.98M423.13 213.98H428.13" stroke="#8f8f8f" stroke-width="0.9" fill="none"/>
<text x="418.93" y="210.52" font-size="9.8" text-anchor="middle">C</text>
<text x="425.93" y="203.78" font-size="9.8" text-anchor="middle">ab</text>
<rect x="435.22" y="211.38" width="5.7" height="100.12" fill="url(#dots)" stroke="#5f5f5f" stroke-width="0.9"/>
<rect x="441.12" y="209.06" width="6.9" height="102.44" fill="#404040"/>
<path d="M437.77 210.38V210.98M435.27 210.38H440.27" stroke="#3a3a3a" stroke-width="1" fill="none"/>
<path d="M444.47 208.46V209.06M441.97 208.46H446.97" stroke="#3a3a3a" stroke-width="1" fill="none"/>
<text x="437.77" y="208.18" font-size="9.8" text-anchor="middle">A</text>
<text x="444.77" y="206.26" font-size="9.8" text-anchor="middle">a</text>
<rect x="454.05" y="225.42" width="5.7" height="86.08" fill="url(#dots)" stroke="#5f5f5f" stroke-width="0.9"/>
<rect x="459.95" y="220.6" width="6.9" height="90.9" fill="#404040"/>
<path d="M456.6 224.42V225.02M454.1 224.42H459.1" stroke="#3a3a3a" stroke-width="1" fill="none"/>
<path d="M463.3 220V220.6M460.8 220H465.8" stroke="#3a3a3a" stroke-width="1" fill="none"/>
<text x="456.6" y="222.22" font-size="9.8" text-anchor="middle">F</text>
<text x="463.6" y="217.8" font-size="9.8" text-anchor="middle">e</text>
<text x="459.6" y="213.2" class="st" font-size="11" text-anchor="middle">*</text>
<rect x="472.89" y="248.49" width="5.7" height="63.01" fill="url(#dots)" stroke="#5f5f5f" stroke-width="0.9"/>
<rect x="478.79" y="245" width="6.9" height="66.5" fill="#404040"/>
<path d="M475.44 245.59V248.09M472.94 245.59H477.94" stroke="#3a3a3a" stroke-width="1" fill="none"/>
<path d="M475.44 248.09V250.59M472.94 250.59H477.94" stroke="#4a4a4a" stroke-width="0.9" fill="none"/>
<path d="M482.14 244.4V245M479.64 244.4H484.64" stroke="#3a3a3a" stroke-width="1" fill="none"/>
<text x="475.44" y="243.39" font-size="9.8" text-anchor="middle">I</text>
<text x="482.44" y="242.2" font-size="9.8" text-anchor="middle">h</text>
<text x="478.6" y="235.6" class="st" font-size="11" text-anchor="middle">*</text>
<rect x="491.72" y="248.78" width="5.7" height="62.72" fill="url(#dots)" stroke="#5f5f5f" stroke-width="0.9"/>
<rect x="497.62" y="246.34" width="6.9" height="65.16" fill="#404040"/>
<path d="M494.27 247.78V248.38M491.77 247.78H496.77" stroke="#3a3a3a" stroke-width="1" fill="none"/>
<path d="M500.97 244.14V246.34M498.47 244.14H503.47" stroke="#3a3a3a" stroke-width="1" fill="none"/>
<path d="M500.97 246.34V248.54M498.47 248.54H503.47" stroke="#8f8f8f" stroke-width="0.9" fill="none"/>
<text x="494.27" y="245.58" font-size="9.8" text-anchor="middle">I</text>
<text x="501.27" y="241.44" font-size="9.8" text-anchor="middle">h</text>
<text x="497.6" y="234.6" class="st" font-size="11" text-anchor="middle">*</text>
<rect x="510.56" y="243.83" width="5.7" height="67.67" fill="url(#dots)" stroke="#5f5f5f" stroke-width="0.9"/>
<rect x="516.46" y="239.35" width="6.9" height="72.15" fill="#404040"/>
<path d="M513.11 242.83V243.43M510.61 242.83H515.61" stroke="#3a3a3a" stroke-width="1" fill="none"/>
<path d="M519.81 238.75V239.35M517.31 238.75H522.31" stroke="#3a3a3a" stroke-width="1" fill="none"/>
<text x="513.11" y="240.63" font-size="9.8" text-anchor="middle">H</text>
<text x="520.11" y="236.55" font-size="9.8" text-anchor="middle">g</text>
<text x="516.4" y="230.6" class="st" font-size="11" text-anchor="middle">*</text>
<rect x="529.4" y="214.41" width="5.7" height="97.09" fill="url(#dots)" stroke="#5f5f5f" stroke-width="0.9"/>
<rect x="535.3" y="210.98" width="6.9" height="100.52" fill="#404040"/>
<path d="M531.95 211.51V214.01M529.45 211.51H534.45" stroke="#3a3a3a" stroke-width="1" fill="none"/>
<path d="M531.95 214.01V216.51M529.45 216.51H534.45" stroke="#4a4a4a" stroke-width="0.9" fill="none"/>
<path d="M538.65 210.38V210.98M536.15 210.38H541.15" stroke="#3a3a3a" stroke-width="1" fill="none"/>
<text x="531.95" y="209.31" font-size="9.8" text-anchor="middle">B</text>
<text x="538.95" y="208.18" font-size="9.8" text-anchor="middle">bc</text>
<path d="M319 193.6V312" stroke="#1a1a1a" stroke-width="1.3" fill="none"/>
<path d="M318.5 311.5H544.8" stroke="#1a1a1a" stroke-width="1.4" fill="none"/>
<path d="M315.6 311.5H319" stroke="#1a1a1a" stroke-width="1" fill="none"/>
<text transform="translate(308.2 315.3) scale(0.92 1)" font-size="12" text-anchor="end">0</text>
<path d="M315.6 288.02H319" stroke="#1a1a1a" stroke-width="1" fill="none"/>
<text transform="translate(308.2 291.82) scale(0.92 1)" font-size="12" text-anchor="end">40</text>
<path d="M315.6 264.54H319" stroke="#1a1a1a" stroke-width="1" fill="none"/>
<text transform="translate(308.2 268.34) scale(0.92 1)" font-size="12" text-anchor="end">80</text>
<path d="M315.6 241.06H319" stroke="#1a1a1a" stroke-width="1" fill="none"/>
<text transform="translate(308.2 244.86) scale(0.92 1)" font-size="12" text-anchor="end">120</text>
<path d="M315.6 217.58H319" stroke="#1a1a1a" stroke-width="1" fill="none"/>
<text transform="translate(308.2 221.38) scale(0.92 1)" font-size="12" text-anchor="end">160</text>
<path d="M315.6 194.1H319" stroke="#1a1a1a" stroke-width="1" fill="none"/>
<text transform="translate(308.2 197.9) scale(0.92 1)" font-size="12" text-anchor="end">200</text>
<text transform="translate(328.6 330) scale(0.9 1)" font-size="12" text-anchor="middle">1</text>
<text transform="translate(347.44 330) scale(0.9 1)" font-size="12" text-anchor="middle">2</text>
<text transform="translate(366.27 330) scale(0.9 1)" font-size="12" text-anchor="middle">3</text>
<text transform="translate(385.11 330) scale(0.9 1)" font-size="12" text-anchor="middle">4</text>
<text transform="translate(403.94 330) scale(0.9 1)" font-size="12" text-anchor="middle">5</text>
<text transform="translate(422.78 330) scale(0.9 1)" font-size="12" text-anchor="middle">6</text>
<text transform="translate(441.62 330) scale(0.9 1)" font-size="12" text-anchor="middle">7</text>
<text transform="translate(460.45 330) scale(0.9 1)" font-size="12" text-anchor="middle">8</text>
<text transform="translate(479.29 330) scale(0.9 1)" font-size="12" text-anchor="middle">9</text>
<text transform="translate(498.12 330) scale(0.9 1)" font-size="12" text-anchor="middle">10</text>
<text transform="translate(516.96 330) scale(0.9 1)" font-size="12" text-anchor="middle">11</text>
<text transform="translate(535.8 330) scale(0.9 1)" font-size="12" text-anchor="middle">12</text>
<text x="332" y="181.8" font-size="12" text-anchor="middle">(d)</text>
<rect x="403.05" y="174.45" width="4.8" height="4.8" fill="#dcdcdc" stroke="#5e5e5e" stroke-width="0.9"/>
<text x="411.6" y="180.3" font-size="10.6" textLength="18.8" lengthAdjust="spacingAndGlyphs">WW</text>
<rect x="459.8" y="174" width="5.7" height="5.7" fill="#404040"/>
<text x="468.2" y="180.3" font-size="10.8">TWS</text>
</g>
<g id="panel-e">
<rect x="54.6" y="379.81" width="5.7" height="95.09" fill="url(#dots)" stroke="#5f5f5f" stroke-width="0.9"/>
<rect x="60.5" y="387.38" width="6.9" height="87.51" fill="#404040"/>
<path d="M57.15 374.91V379.41M54.65 374.91H59.65" stroke="#3a3a3a" stroke-width="1" fill="none"/>
<path d="M57.15 379.41V383.91M54.65 383.91H59.65" stroke="#4a4a4a" stroke-width="0.9" fill="none"/>
<path d="M63.85 383.58V387.38M61.35 383.58H66.35" stroke="#3a3a3a" stroke-width="1" fill="none"/>
<path d="M63.85 387.38V391.19M61.35 391.19H66.35" stroke="#8f8f8f" stroke-width="0.9" fill="none"/>
<text x="57.15" y="372.71" font-size="9.8" text-anchor="middle">A</text>
<text x="64.15" y="381.38" font-size="9.8" text-anchor="middle">a</text>
<rect x="73.4" y="377.77" width="5.7" height="97.12" fill="url(#dots)" stroke="#5f5f5f" stroke-width="0.9"/>
<rect x="79.3" y="386.62" width="6.9" height="88.28" fill="#404040"/>
<path d="M75.95 372.88V377.38M73.45 372.88H78.45" stroke="#3a3a3a" stroke-width="1" fill="none"/>
<path d="M75.95 377.38V381.88M73.45 381.88H78.45" stroke="#4a4a4a" stroke-width="0.9" fill="none"/>
<path d="M82.65 382.81V386.62M80.15 382.81H85.15" stroke="#3a3a3a" stroke-width="1" fill="none"/>
<path d="M82.65 386.62V390.42M80.15 390.42H85.15" stroke="#8f8f8f" stroke-width="0.9" fill="none"/>
<text x="75.95" y="370.68" font-size="9.8" text-anchor="middle">A</text>
<text x="82.95" y="380.62" font-size="9.8" text-anchor="middle">a</text>
<text x="80.6" y="366.6" class="st" font-size="11" text-anchor="middle">*</text>
<rect x="92.2" y="398.95" width="5.7" height="75.95" fill="url(#dots)" stroke="#5f5f5f" stroke-width="0.9"/>
<rect x="98.1" y="401.02" width="6.9" height="73.88" fill="#404040"/>
<path d="M94.75 394.05V398.55M92.25 394.05H97.25" stroke="#3a3a3a" stroke-width="1" fill="none"/>
<path d="M94.75 398.55V403.05M92.25 403.05H97.25" stroke="#4a4a4a" stroke-width="0.9" fill="none"/>
<path d="M101.45 397.22V401.02M98.95 397.22H103.95" stroke="#3a3a3a" stroke-width="1" fill="none"/>
<path d="M101.45 401.02V404.82M98.95 404.82H103.95" stroke="#8f8f8f" stroke-width="0.9" fill="none"/>
<text x="94.75" y="391.85" font-size="9.8" text-anchor="middle">B</text>
<text x="101.75" y="395.02" font-size="9.8" text-anchor="middle">b</text>
<rect x="111" y="378.05" width="5.7" height="96.85" fill="url(#dots)" stroke="#5f5f5f" stroke-width="0.9"/>
<rect x="116.9" y="390.57" width="6.9" height="84.32" fill="#404040"/>
<path d="M113.55 373.15V377.65M111.05 373.15H116.05" stroke="#3a3a3a" stroke-width="1" fill="none"/>
<path d="M113.55 377.65V382.15M111.05 382.15H116.05" stroke="#4a4a4a" stroke-width="0.9" fill="none"/>
<path d="M120.25 386.77V390.57M117.75 386.77H122.75" stroke="#3a3a3a" stroke-width="1" fill="none"/>
<path d="M120.25 390.57V394.38M117.75 394.38H122.75" stroke="#8f8f8f" stroke-width="0.9" fill="none"/>
<text x="113.55" y="370.95" font-size="9.8" text-anchor="middle">A</text>
<text x="120.55" y="384.57" font-size="9.8" text-anchor="middle">a</text>
<text x="118" y="367.6" class="st" font-size="11" text-anchor="middle">*</text>
<rect x="129.8" y="402.41" width="5.7" height="72.48" fill="url(#dots)" stroke="#5f5f5f" stroke-width="0.9"/>
<rect x="135.7" y="404.05" width="6.9" height="70.85" fill="#404040"/>
<path d="M132.35 397.51V402.01M129.85 397.51H134.85" stroke="#3a3a3a" stroke-width="1" fill="none"/>
<path d="M132.35 402.01V406.51M129.85 406.51H134.85" stroke="#4a4a4a" stroke-width="0.9" fill="none"/>
<path d="M139.05 400.25V404.05M136.55 400.25H141.55" stroke="#3a3a3a" stroke-width="1" fill="none"/>
<path d="M139.05 404.05V407.85M136.55 407.85H141.55" stroke="#8f8f8f" stroke-width="0.9" fill="none"/>
<text x="132.35" y="395.31" font-size="9.8" text-anchor="middle">B</text>
<text x="139.35" y="398.05" font-size="9.8" text-anchor="middle">bc</text>
<rect x="148.6" y="381.9" width="5.7" height="93" fill="url(#dots)" stroke="#5f5f5f" stroke-width="0.9"/>
<rect x="154.5" y="385.02" width="6.9" height="89.88" fill="#404040"/>
<path d="M151.15 377V381.5M148.65 377H153.65" stroke="#3a3a3a" stroke-width="1" fill="none"/>
<path d="M151.15 381.5V386M148.65 386H153.65" stroke="#4a4a4a" stroke-width="0.9" fill="none"/>
<path d="M157.85 381.22V385.02M155.35 381.22H160.35" stroke="#3a3a3a" stroke-width="1" fill="none"/>
<path d="M157.85 385.02V388.82M155.35 388.82H160.35" stroke="#8f8f8f" stroke-width="0.9" fill="none"/>
<text x="151.15" y="374.8" font-size="9.8" text-anchor="middle">A</text>
<text x="158.15" y="379.02" font-size="9.8" text-anchor="middle">a</text>
<rect x="167.4" y="380.41" width="5.7" height="94.48" fill="url(#dots)" stroke="#5f5f5f" stroke-width="0.9"/>
<rect x="173.3" y="390.57" width="6.9" height="84.32" fill="#404040"/>
<path d="M169.95 375.51V380.01M167.45 375.51H172.45" stroke="#3a3a3a" stroke-width="1" fill="none"/>
<path d="M169.95 380.01V384.51M167.45 384.51H172.45" stroke="#4a4a4a" stroke-width="0.9" fill="none"/>
<path d="M176.65 386.77V390.57M174.15 386.77H179.15" stroke="#3a3a3a" stroke-width="1" fill="none"/>
<path d="M176.65 390.57V394.38M174.15 394.38H179.15" stroke="#8f8f8f" stroke-width="0.9" fill="none"/>
<text x="169.95" y="373.31" font-size="9.8" text-anchor="middle">A</text>
<text x="176.95" y="384.57" font-size="9.8" text-anchor="middle">a</text>
<text x="174" y="369.6" class="st" font-size="11" text-anchor="middle">*</text>
<rect x="186.2" y="379.15" width="5.7" height="95.75" fill="url(#dots)" stroke="#5f5f5f" stroke-width="0.9"/>
<rect x="192.1" y="386.62" width="6.9" height="88.28" fill="#404040"/>
<path d="M188.75 374.25V378.75M186.25 374.25H191.25" stroke="#3a3a3a" stroke-width="1" fill="none"/>
<path d="M188.75 378.75V383.25M186.25 383.25H191.25" stroke="#4a4a4a" stroke-width="0.9" fill="none"/>
<path d="M195.45 382.81V386.62M192.95 382.81H197.95" stroke="#3a3a3a" stroke-width="1" fill="none"/>
<path d="M195.45 386.62V390.42M192.95 390.42H197.95" stroke="#8f8f8f" stroke-width="0.9" fill="none"/>
<text x="188.75" y="372.05" font-size="9.8" text-anchor="middle">A</text>
<text x="195.75" y="380.62" font-size="9.8" text-anchor="middle">a</text>
<rect x="205" y="404.45" width="5.7" height="70.45" fill="url(#dots)" stroke="#5f5f5f" stroke-width="0.9"/>
<rect x="210.9" y="407.02" width="6.9" height="67.88" fill="#404040"/>
<path d="M207.55 399.55V404.05M205.05 399.55H210.05" stroke="#3a3a3a" stroke-width="1" fill="none"/>
<path d="M207.55 404.05V408.55M205.05 408.55H210.05" stroke="#4a4a4a" stroke-width="0.9" fill="none"/>
<path d="M214.25 403.22V407.02M211.75 403.22H216.75" stroke="#3a3a3a" stroke-width="1" fill="none"/>
<path d="M214.25 407.02V410.82M211.75 410.82H216.75" stroke="#8f8f8f" stroke-width="0.9" fill="none"/>
<text x="207.55" y="397.35" font-size="9.8" text-anchor="middle">B</text>
<text x="214.55" y="401.02" font-size="9.8" text-anchor="middle">bc</text>
<text x="211.4" y="391.6" class="st" font-size="11" text-anchor="middle">*</text>
<rect x="223.8" y="427.82" width="5.7" height="47.07" fill="url(#dots)" stroke="#5f5f5f" stroke-width="0.9"/>
<rect x="229.7" y="431" width="6.9" height="43.9" fill="#404040"/>
<path d="M226.35 422.93V427.43M223.85 422.93H228.85" stroke="#3a3a3a" stroke-width="1" fill="none"/>
<path d="M226.35 427.43V431.93M223.85 431.93H228.85" stroke="#4a4a4a" stroke-width="0.9" fill="none"/>
<path d="M233.05 427.2V431M230.55 427.2H235.55" stroke="#3a3a3a" stroke-width="1" fill="none"/>
<path d="M233.05 431V434.8M230.55 434.8H235.55" stroke="#8f8f8f" stroke-width="0.9" fill="none"/>
<text x="226.35" y="420.73" font-size="9.8" text-anchor="middle">C</text>
<text x="233.35" y="425" font-size="9.8" text-anchor="middle">d</text>
<rect x="242.6" y="399.77" width="5.7" height="75.12" fill="url(#dots)" stroke="#5f5f5f" stroke-width="0.9"/>
<rect x="248.5" y="408.01" width="6.9" height="66.89" fill="#404040"/>
<path d="M245.15 394.88V399.38M242.65 394.88H247.65" stroke="#3a3a3a" stroke-width="1" fill="none"/>
<path d="M245.15 399.38V403.88M242.65 403.88H247.65" stroke="#4a4a4a" stroke-width="0.9" fill="none"/>
<path d="M251.85 404.21V408.01M249.35 404.21H254.35" stroke="#3a3a3a" stroke-width="1" fill="none"/>
<path d="M251.85 408.01V411.81M249.35 411.81H254.35" stroke="#8f8f8f" stroke-width="0.9" fill="none"/>
<text x="245.15" y="392.68" font-size="9.8" text-anchor="middle">B</text>
<text x="252.15" y="402.01" font-size="9.8" text-anchor="middle">c</text>
<rect x="261.4" y="381.35" width="5.7" height="93.55" fill="url(#dots)" stroke="#5f5f5f" stroke-width="0.9"/>
<rect x="267.3" y="386.01" width="6.9" height="88.89" fill="#404040"/>
<path d="M263.95 376.45V380.95M261.45 376.45H266.45" stroke="#3a3a3a" stroke-width="1" fill="none"/>
<path d="M263.95 380.95V385.45M261.45 385.45H266.45" stroke="#4a4a4a" stroke-width="0.9" fill="none"/>
<path d="M270.65 382.21V386.01M268.15 382.21H273.15" stroke="#3a3a3a" stroke-width="1" fill="none"/>
<path d="M270.65 386.01V389.81M268.15 389.81H273.15" stroke="#8f8f8f" stroke-width="0.9" fill="none"/>
<text x="263.95" y="374.25" font-size="9.8" text-anchor="middle">A</text>
<text x="270.95" y="380.01" font-size="9.8" text-anchor="middle">a</text>
<text x="267.4" y="369.2" class="st" font-size="11" text-anchor="middle">*</text>
<path d="M51.5 364.9V475.4" stroke="#1a1a1a" stroke-width="1.3" fill="none"/>
<path d="M51 474.9H276.8" stroke="#1a1a1a" stroke-width="1.4" fill="none"/>
<path d="M48.1 474.9H51.5" stroke="#1a1a1a" stroke-width="1" fill="none"/>
<text transform="translate(40.7 478.7) scale(0.92 1)" font-size="12" text-anchor="end">0</text>
<path d="M48.1 453H51.5" stroke="#1a1a1a" stroke-width="1" fill="none"/>
<text transform="translate(40.7 456.8) scale(0.92 1)" font-size="12" text-anchor="end">40</text>
<path d="M48.1 431.1H51.5" stroke="#1a1a1a" stroke-width="1" fill="none"/>
<text transform="translate(40.7 434.9) scale(0.92 1)" font-size="12" text-anchor="end">80</text>
<path d="M48.1 409.2H51.5" stroke="#1a1a1a" stroke-width="1" fill="none"/>
<text transform="translate(40.7 413) scale(0.92 1)" font-size="12" text-anchor="end">120</text>
<path d="M48.1 387.3H51.5" stroke="#1a1a1a" stroke-width="1" fill="none"/>
<text transform="translate(40.7 391.1) scale(0.92 1)" font-size="12" text-anchor="end">160</text>
<path d="M48.1 365.4H51.5" stroke="#1a1a1a" stroke-width="1" fill="none"/>
<text transform="translate(40.7 369.2) scale(0.92 1)" font-size="12" text-anchor="end">200</text>
<text transform="translate(61 493.9) scale(0.9 1)" font-size="12" text-anchor="middle">1</text>
<text transform="translate(79.8 493.9) scale(0.9 1)" font-size="12" text-anchor="middle">2</text>
<text transform="translate(98.6 493.9) scale(0.9 1)" font-size="12" text-anchor="middle">3</text>
<text transform="translate(117.4 493.9) scale(0.9 1)" font-size="12" text-anchor="middle">4</text>
<text transform="translate(136.2 493.9) scale(0.9 1)" font-size="12" text-anchor="middle">5</text>
<text transform="translate(155 493.9) scale(0.9 1)" font-size="12" text-anchor="middle">6</text>
<text transform="translate(173.8 493.9) scale(0.9 1)" font-size="12" text-anchor="middle">7</text>
<text transform="translate(192.6 493.9) scale(0.9 1)" font-size="12" text-anchor="middle">8</text>
<text transform="translate(211.4 493.9) scale(0.9 1)" font-size="12" text-anchor="middle">9</text>
<text transform="translate(230.2 493.9) scale(0.9 1)" font-size="12" text-anchor="middle">10</text>
<text transform="translate(249 493.9) scale(0.9 1)" font-size="12" text-anchor="middle">11</text>
<text transform="translate(267.8 493.9) scale(0.9 1)" font-size="12" text-anchor="middle">12</text>
<text x="65.5" y="350.2" font-size="12" text-anchor="middle">(e)</text>
<rect x="126.05" y="343.85" width="4.8" height="4.8" fill="#dcdcdc" stroke="#5e5e5e" stroke-width="0.9"/>
<text x="134.6" y="349.7" font-size="10.6" textLength="18.8" lengthAdjust="spacingAndGlyphs">WW</text>
<rect x="182.8" y="343.4" width="5.7" height="5.7" fill="#404040"/>
<text x="191.2" y="349.7" font-size="10.8">TWS</text>
<text transform="translate(11.6 416.4) rotate(-90)" font-size="12.6" text-anchor="middle">Plant Height (cm)</text>
<text x="162.6" y="509.2" font-size="12.3" text-anchor="middle">Lowland Rice Genotypes</text>
</g>
<g id="panel-f">
<rect x="322.2" y="383.35" width="5.7" height="95.05" fill="url(#dots)" stroke="#5f5f5f" stroke-width="0.9"/>
<rect x="328.1" y="392.15" width="6.9" height="86.25" fill="#404040"/>
<path d="M324.75 378.25V382.95M322.25 378.25H327.25" stroke="#3a3a3a" stroke-width="1" fill="none"/>
<path d="M324.75 382.95V387.65M322.25 387.65H327.25" stroke="#4a4a4a" stroke-width="0.9" fill="none"/>
<path d="M331.45 386.95V392.15M328.95 386.95H333.95" stroke="#3a3a3a" stroke-width="1" fill="none"/>
<path d="M331.45 392.15V397.35M328.95 397.35H333.95" stroke="#8f8f8f" stroke-width="0.9" fill="none"/>
<text transform="translate(327.85 376.05) rotate(-90)" font-size="9.8" text-anchor="start">AB</text>
<text transform="translate(334.85 384.75) rotate(-90)" font-size="9.8" text-anchor="start">abcd</text>
<text x="328.4" y="363.6" class="st" font-size="11" text-anchor="middle">*</text>
<rect x="341.02" y="387.95" width="5.7" height="90.45" fill="url(#dots)" stroke="#5f5f5f" stroke-width="0.9"/>
<rect x="346.92" y="397.9" width="6.9" height="80.5" fill="#404040"/>
<path d="M343.57 382.25V387.55M341.07 382.25H346.07" stroke="#3a3a3a" stroke-width="1" fill="none"/>
<path d="M343.57 387.55V392.85M341.07 392.85H346.07" stroke="#4a4a4a" stroke-width="0.9" fill="none"/>
<path d="M350.27 394.7V397.9M347.77 394.7H352.77" stroke="#3a3a3a" stroke-width="1" fill="none"/>
<path d="M350.27 397.9V401.1M347.77 401.1H352.77" stroke="#8f8f8f" stroke-width="0.9" fill="none"/>
<text transform="translate(346.67 380.05) rotate(-90)" font-size="9.8" text-anchor="start">AB</text>
<text transform="translate(353.67 392.5) rotate(-90)" font-size="9.8" text-anchor="start">def</text>
<text x="347.4" y="368.2" class="st" font-size="11" text-anchor="middle">*</text>
<rect x="359.84" y="390.42" width="5.7" height="87.98" fill="url(#dots)" stroke="#5f5f5f" stroke-width="0.9"/>
<rect x="365.74" y="397.32" width="6.9" height="81.07" fill="#404040"/>
<path d="M362.39 387.02V390.02M359.89 387.02H364.89" stroke="#3a3a3a" stroke-width="1" fill="none"/>
<path d="M362.39 390.02V393.02M359.89 393.02H364.89" stroke="#4a4a4a" stroke-width="0.9" fill="none"/>
<path d="M369.09 394.82V397.32M366.59 394.82H371.59" stroke="#3a3a3a" stroke-width="1" fill="none"/>
<path d="M369.09 397.32V399.82M366.59 399.82H371.59" stroke="#8f8f8f" stroke-width="0.9" fill="none"/>
<text transform="translate(365.49 384.82) rotate(-90)" font-size="9.8" text-anchor="start">AB</text>
<text transform="translate(372.49 392.62) rotate(-90)" font-size="9.8" text-anchor="start">cdef</text>
<text x="366.4" y="372.6" class="st" font-size="11" text-anchor="middle">*</text>
<rect x="378.66" y="391.97" width="5.7" height="86.42" fill="url(#dots)" stroke="#5f5f5f" stroke-width="0.9"/>
<rect x="384.56" y="399.05" width="6.9" height="79.35" fill="#404040"/>
<path d="M381.21 390.77V391.57M378.71 390.77H383.71" stroke="#3a3a3a" stroke-width="1" fill="none"/>
<path d="M387.91 398.05V399.05M385.41 398.05H390.41" stroke="#3a3a3a" stroke-width="1" fill="none"/>
<path d="M387.91 399.05V400.05M385.41 400.05H390.41" stroke="#8f8f8f" stroke-width="0.9" fill="none"/>
<text x="381.21" y="388.57" font-size="9.8" text-anchor="middle">B</text>
<text x="388.21" y="397.45" font-size="9.8" text-anchor="middle">ef</text>
<text x="384.56" y="384.38" class="st" font-size="11" text-anchor="middle">*</text>
<rect x="397.48" y="387.37" width="5.7" height="91.03" fill="url(#dots)" stroke="#5f5f5f" stroke-width="0.9"/>
<rect x="403.38" y="392.15" width="6.9" height="86.25" fill="#404040"/>
<path d="M400.03 386.37V386.97M397.53 386.37H402.53" stroke="#3a3a3a" stroke-width="1" fill="none"/>
<path d="M406.73 391.55V392.15M404.23 391.55H409.23" stroke="#3a3a3a" stroke-width="1" fill="none"/>
<text transform="translate(403.13 384.17) rotate(-90)" font-size="9.8" text-anchor="start">AB</text>
<text transform="translate(410.13 389.35) rotate(-90)" font-size="9.8" text-anchor="start">abcde</text>
<rect x="416.3" y="387.95" width="5.7" height="90.45" fill="url(#dots)" stroke="#5f5f5f" stroke-width="0.9"/>
<rect x="422.2" y="393.99" width="6.9" height="84.41" fill="#404040"/>
<path d="M418.85 382.05V387.55M416.35 382.05H421.35" stroke="#3a3a3a" stroke-width="1" fill="none"/>
<path d="M418.85 387.55V393.05M416.35 393.05H421.35" stroke="#4a4a4a" stroke-width="0.9" fill="none"/>
<path d="M425.55 390.79V393.99M423.05 390.79H428.05" stroke="#3a3a3a" stroke-width="1" fill="none"/>
<path d="M425.55 393.99V397.19M423.05 397.19H428.05" stroke="#8f8f8f" stroke-width="0.9" fill="none"/>
<text transform="translate(421.95 379.85) rotate(-90)" font-size="9.8" text-anchor="start">AB</text>
<text transform="translate(428.95 388.59) rotate(-90)" font-size="9.8" text-anchor="start">bcdef</text>
<rect x="435.12" y="381.05" width="5.7" height="97.35" fill="url(#dots)" stroke="#5f5f5f" stroke-width="0.9"/>
<rect x="441.02" y="390.02" width="6.9" height="88.38" fill="#404040"/>
<path d="M437.67 380.05V380.65M435.17 380.05H440.17" stroke="#3a3a3a" stroke-width="1" fill="none"/>
<path d="M444.37 389.42V390.02M441.87 389.42H446.87" stroke="#3a3a3a" stroke-width="1" fill="none"/>
<text x="437.67" y="378.85" font-size="9.8" text-anchor="middle">A</text>
<text transform="translate(447.77 387.22) rotate(-90)" font-size="9.8" text-anchor="start">abc</text>
<text x="442" y="372.6" class="st" font-size="11" text-anchor="middle">*</text>
<rect x="453.94" y="388.52" width="5.7" height="89.87" fill="url(#dots)" stroke="#5f5f5f" stroke-width="0.9"/>
<rect x="459.84" y="401" width="6.9" height="77.39" fill="#404040"/>
<path d="M456.49 387.32V388.12M453.99 387.32H458.99" stroke="#3a3a3a" stroke-width="1" fill="none"/>
<path d="M463.19 400.4V401M460.69 400.4H465.69" stroke="#3a3a3a" stroke-width="1" fill="none"/>
<text x="457.49" y="385.12" font-size="9.8" text-anchor="middle">AB</text>
<text x="463.49" y="398.2" font-size="9.8" text-anchor="middle">f</text>
<text x="460" y="379.6" class="st" font-size="11" text-anchor="middle">*</text>
<rect x="472.76" y="384.5" width="5.7" height="93.9" fill="url(#dots)" stroke="#5f5f5f" stroke-width="0.9"/>
<rect x="478.66" y="386" width="6.9" height="92.4" fill="#404040"/>
<path d="M475.31 380.9V384.1M472.81 380.9H477.81" stroke="#3a3a3a" stroke-width="1" fill="none"/>
<path d="M475.31 384.1V387.3M472.81 387.3H477.81" stroke="#4a4a4a" stroke-width="0.9" fill="none"/>
<path d="M482.01 384.3V386M479.51 384.3H484.51" stroke="#3a3a3a" stroke-width="1" fill="none"/>
<path d="M482.01 386V387.7M479.51 387.7H484.51" stroke="#8f8f8f" stroke-width="0.9" fill="none"/>
<text x="475.31" y="376.7" font-size="9.8" text-anchor="middle">AB</text>
<text x="483.81" y="382.1" font-size="9.8" text-anchor="middle">a</text>
<rect x="491.58" y="417.85" width="5.7" height="60.55" fill="url(#dots)" stroke="#5f5f5f" stroke-width="0.9"/>
<rect x="497.48" y="420.04" width="6.9" height="58.36" fill="#404040"/>
<path d="M494.13 415.25V417.45M491.63 415.25H496.63" stroke="#3a3a3a" stroke-width="1" fill="none"/>
<path d="M494.13 417.45V419.65M491.63 419.65H496.63" stroke="#4a4a4a" stroke-width="0.9" fill="none"/>
<path d="M500.83 419.24V420.04M498.33 419.24H503.33" stroke="#3a3a3a" stroke-width="1" fill="none"/>
<text x="494.13" y="413.05" font-size="9.8" text-anchor="middle">C</text>
<text x="501.13" y="417.04" font-size="9.8" text-anchor="middle">g</text>
<rect x="510.4" y="385.42" width="5.7" height="92.98" fill="url(#dots)" stroke="#5f5f5f" stroke-width="0.9"/>
<rect x="516.3" y="386.97" width="6.9" height="91.43" fill="#404040"/>
<path d="M512.95 384.52V385.02M510.45 384.52H515.45" stroke="#3a3a3a" stroke-width="1" fill="none"/>
<path d="M519.65 386.47V386.97M517.15 386.47H522.15" stroke="#3a3a3a" stroke-width="1" fill="none"/>
<text x="512.95" y="380.32" font-size="9.8" text-anchor="middle">AB</text>
<text x="523.45" y="384.27" font-size="9.8" text-anchor="middle">ab</text>
<rect x="529.22" y="388.52" width="5.7" height="89.87" fill="url(#dots)" stroke="#5f5f5f" stroke-width="0.9"/>
<rect x="535.12" y="393.59" width="6.9" height="84.81" fill="#404040"/>
<path d="M531.77 384.12V388.12M529.27 384.12H534.27" stroke="#3a3a3a" stroke-width="1" fill="none"/>
<path d="M531.77 388.12V392.12M529.27 392.12H534.27" stroke="#4a4a4a" stroke-width="0.9" fill="none"/>
<path d="M538.47 392.59V393.59M535.97 392.59H540.97" stroke="#3a3a3a" stroke-width="1" fill="none"/>
<path d="M538.47 393.59V394.59M535.97 394.59H540.97" stroke="#8f8f8f" stroke-width="0.9" fill="none"/>
<text transform="translate(535.67 381.93) rotate(-90)" font-size="9.8" text-anchor="start">AB</text>
<text transform="translate(542.47 390.39) rotate(-90)" font-size="9.8" text-anchor="start">bcdef</text>
<text x="535" y="368.2" class="st" font-size="11" text-anchor="middle">*</text>
<path d="M319 362.8V478.9" stroke="#1a1a1a" stroke-width="1.3" fill="none"/>
<path d="M318.5 478.4H545" stroke="#1a1a1a" stroke-width="1.4" fill="none"/>
<path d="M315.6 478.4H319" stroke="#1a1a1a" stroke-width="1" fill="none"/>
<text transform="translate(308.2 482.2) scale(0.92 1)" font-size="12" text-anchor="end">0</text>
<path d="M315.6 455.38H319" stroke="#1a1a1a" stroke-width="1" fill="none"/>
<text transform="translate(308.2 459.18) scale(0.92 1)" font-size="12" text-anchor="end">40</text>
<path d="M315.6 432.36H319" stroke="#1a1a1a" stroke-width="1" fill="none"/>
<text transform="translate(308.2 436.16) scale(0.92 1)" font-size="12" text-anchor="end">80</text>
<path d="M315.6 409.34H319" stroke="#1a1a1a" stroke-width="1" fill="none"/>
<text transform="translate(308.2 413.14) scale(0.92 1)" font-size="12" text-anchor="end">120</text>
<path d="M315.6 386.32H319" stroke="#1a1a1a" stroke-width="1" fill="none"/>
<text transform="translate(308.2 390.12) scale(0.92 1)" font-size="12" text-anchor="end">160</text>
<path d="M315.6 363.3H319" stroke="#1a1a1a" stroke-width="1" fill="none"/>
<text transform="translate(308.2 367.1) scale(0.92 1)" font-size="12" text-anchor="end">200</text>
<text transform="translate(328.6 497) scale(0.9 1)" font-size="12" text-anchor="middle">1</text>
<text transform="translate(347.42 497) scale(0.9 1)" font-size="12" text-anchor="middle">2</text>
<text transform="translate(366.24 497) scale(0.9 1)" font-size="12" text-anchor="middle">3</text>
<text transform="translate(385.06 497) scale(0.9 1)" font-size="12" text-anchor="middle">4</text>
<text transform="translate(403.88 497) scale(0.9 1)" font-size="12" text-anchor="middle">5</text>
<text transform="translate(422.7 497) scale(0.9 1)" font-size="12" text-anchor="middle">6</text>
<text transform="translate(441.52 497) scale(0.9 1)" font-size="12" text-anchor="middle">7</text>
<text transform="translate(460.34 497) scale(0.9 1)" font-size="12" text-anchor="middle">8</text>
<text transform="translate(479.16 497) scale(0.9 1)" font-size="12" text-anchor="middle">9</text>
<text transform="translate(497.98 497) scale(0.9 1)" font-size="12" text-anchor="middle">10</text>
<text transform="translate(516.8 497) scale(0.9 1)" font-size="12" text-anchor="middle">11</text>
<text transform="translate(535.62 497) scale(0.9 1)" font-size="12" text-anchor="middle">12</text>
<text x="329.4" y="350.6" font-size="12" text-anchor="middle">(f)</text>
<rect x="399.45" y="343.85" width="4.8" height="4.8" fill="#dcdcdc" stroke="#5e5e5e" stroke-width="0.9"/>
<text x="408" y="349.7" font-size="10.6" textLength="18.8" lengthAdjust="spacingAndGlyphs">WW</text>
<rect x="456.2" y="343.4" width="5.7" height="5.7" fill="#404040"/>
<text x="464.6" y="349.7" font-size="10.8">TWS</text>
<text x="432.6" y="509.5" font-size="12.3" text-anchor="middle">Lowland Rice Genotypes</text>
</g>
</svg>
</body>
</html>
